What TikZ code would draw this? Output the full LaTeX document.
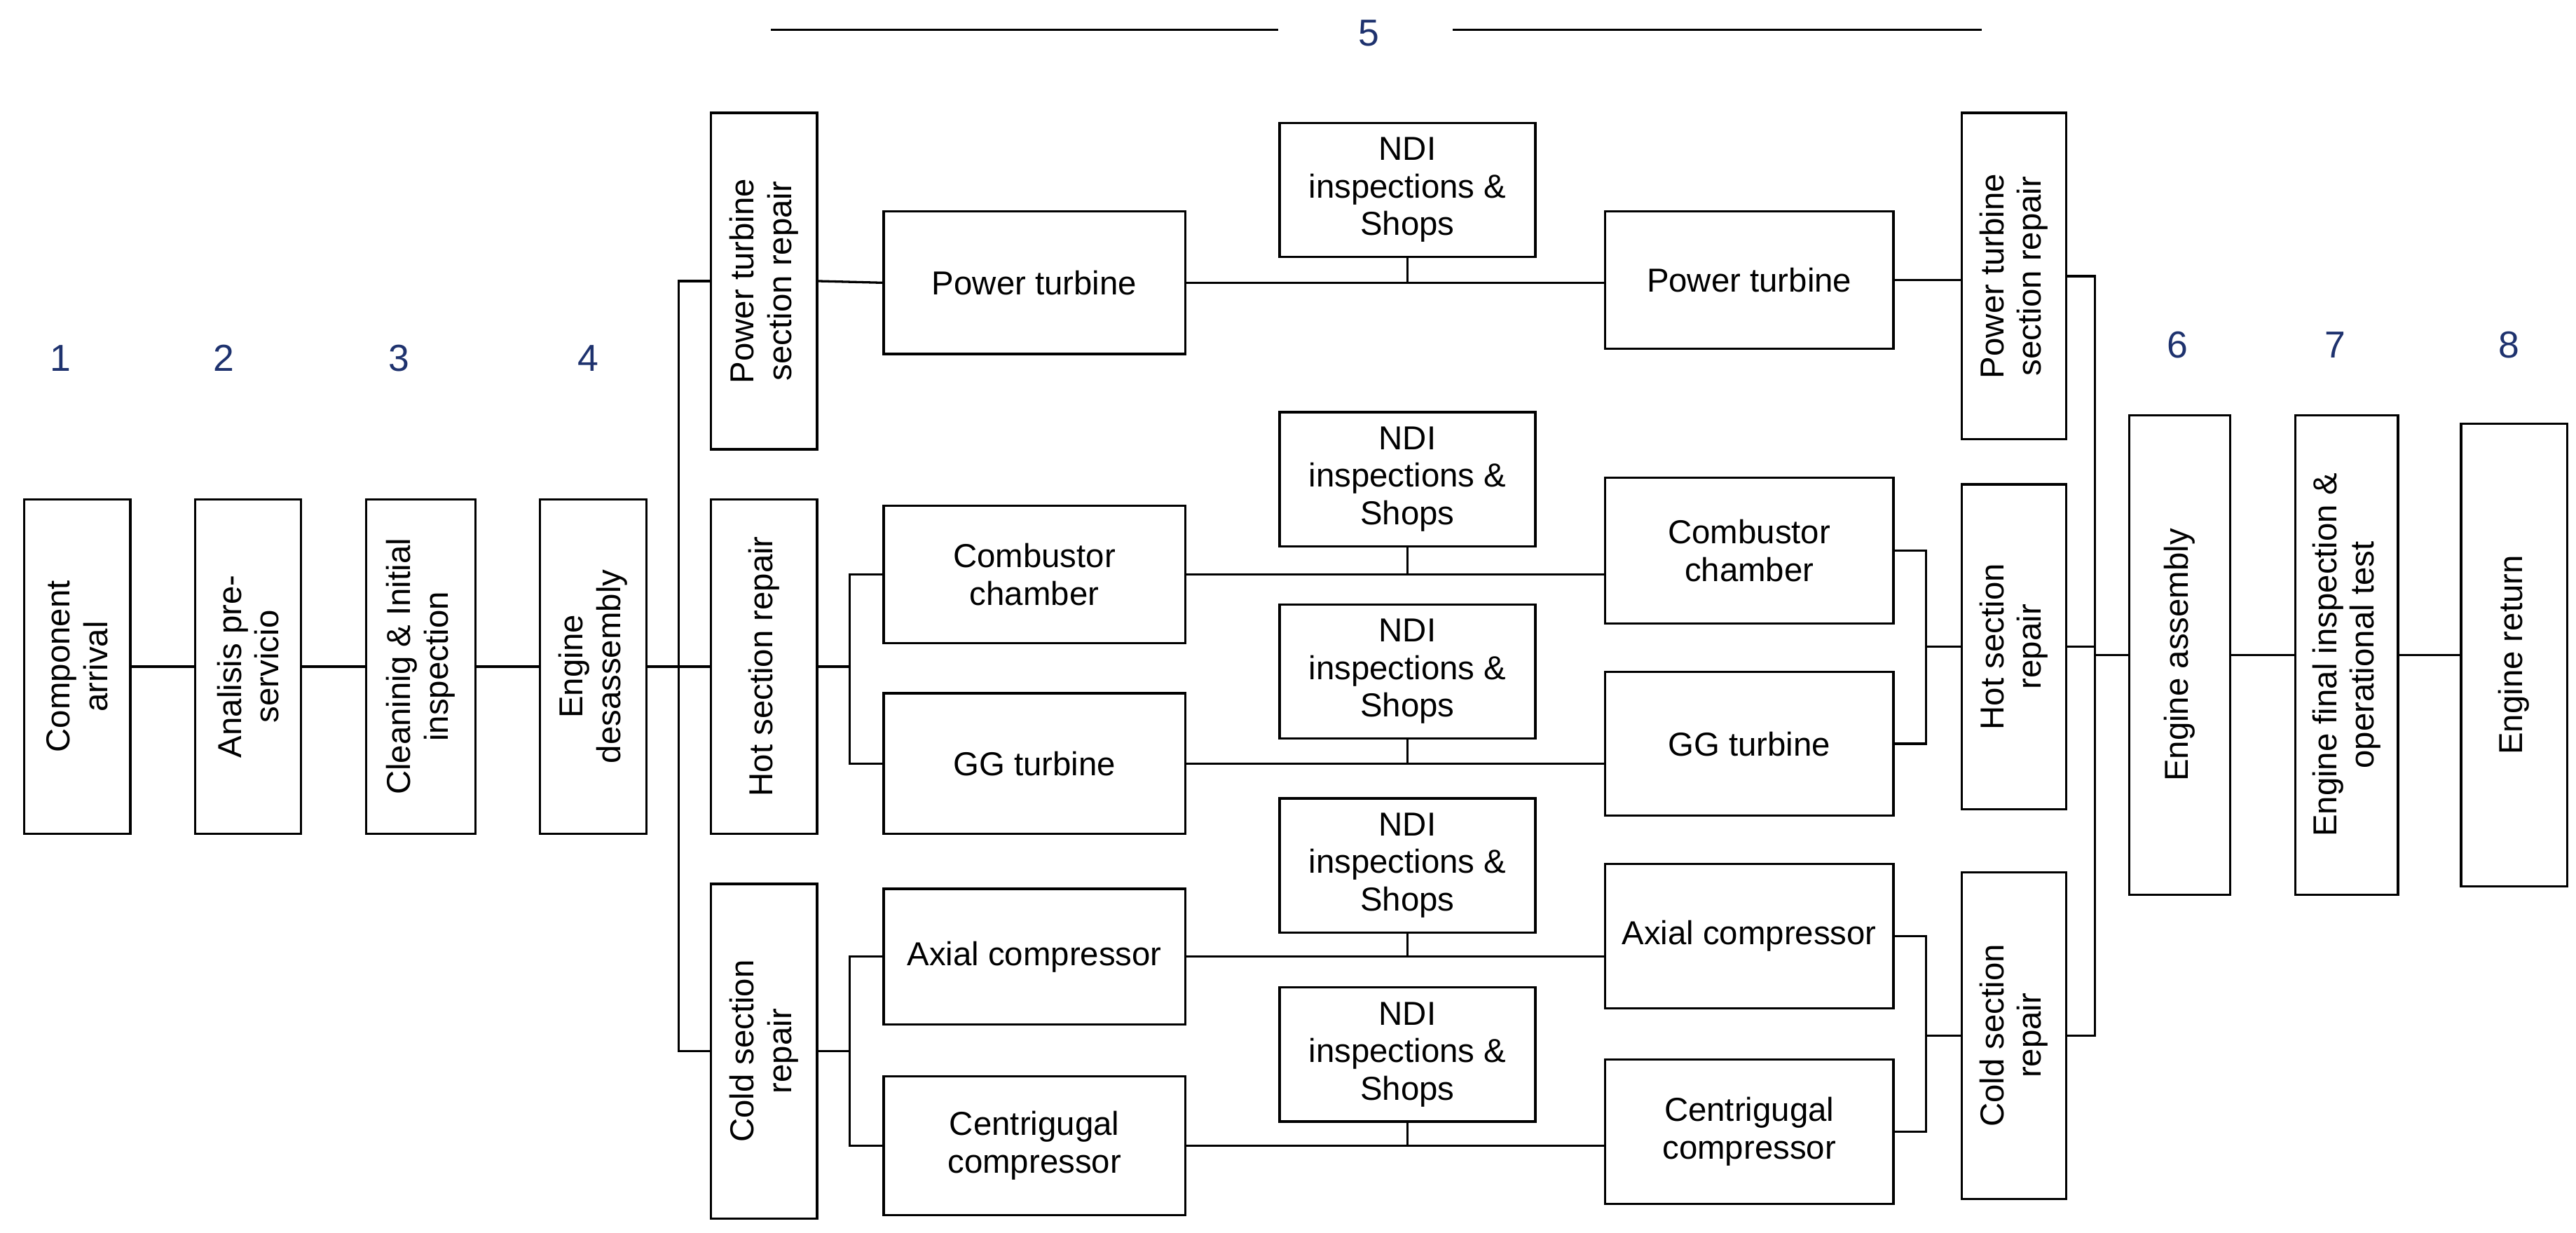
\documentclass[tikz,border=0pt]{standalone}
\usepackage{fontspec}
\setmainfont{Liberation Sans}
\usetikzlibrary{positioning,calc}
\definecolor{numblue}{RGB}{30,50,110}
\tikzset{
  box/.style={draw, thick, fill=white, inner sep=2pt, align=center,
              font=\fontsize{11.5}{13}\selectfont},
  vbox/.style={box, rotate=90},
  num/.style={font=\fontsize{13}{15}\selectfont, text=numblue},
  line/.style={thick},
}
% helper: boxes from display pixel centre and size
\newcommand{\hb}[6]{\node[box, minimum width=#3*0.02cm-0.8pt, minimum height=#4*0.02cm-0.8pt] (#5) at (#1*0.02,-#2*0.02) {#6};}
\newcommand{\vb}[6]{\node[vbox, minimum width=#4*0.02cm-0.8pt, minimum height=#3*0.02cm-0.8pt] (#5) at (#1*0.02,-#2*0.02) {#6};}
\begin{document}
\begin{tikzpicture}
\useasboundingbox (0,0) rectangle (31.36,-15.0);
% stages
\vb{47}{405.5}{66}{205}{s1}{Component\\arrival}
\vb{151}{405.5}{66}{205}{s2}{Analisis pre-\\servicio}
\vb{256}{405.5}{68}{205}{s3}{Cleaninig \& Initial\\inspection}
\vb{361}{405.5}{66}{205}{s4}{Engine\\desassembly}
\vb{465}{171}{66}{206}{ptl}{Power turbine\\section repair}
\vb{465}{405.5}{66}{205}{hsl}{Hot section repair}
\vb{465}{639.5}{66}{205}{csl}{Cold section\\repair}
\hb{629.5}{172}{185}{88}{pt1}{Power turbine}
\hb{629.5}{349.5}{185}{85}{cc1}{Combustor\\chamber}
\hb{629.5}{464.5}{185}{87}{gg1}{GG turbine}
\hb{629.5}{582}{185}{84}{ac1}{Axial compressor}
\hb{629.5}{697}{185}{86}{cf1}{Centrigugal\\compressor}
\hb{856.5}{115.5}{157}{83}{n1}{NDI\\inspections \&\\Shops}
\hb{856.5}{291.5}{157}{83}{n2}{NDI\\inspections \&\\Shops}
\hb{856.5}{408.5}{157}{83}{n3}{NDI\\inspections \&\\Shops}
\hb{856.5}{526.5}{157}{83}{n4}{NDI\\inspections \&\\Shops}
\hb{856.5}{641.5}{157}{83}{n5}{NDI\\inspections \&\\Shops}
\hb{1064.5}{170.5}{177}{85}{pt2}{Power turbine}
\hb{1064.5}{335}{177}{90}{cc2}{Combustor\\chamber}
\hb{1064.5}{452.5}{177}{89}{gg2}{GG turbine}
\hb{1064.5}{569.5}{177}{89}{ac2}{Axial compressor}
\hb{1064.5}{688.5}{177}{89}{cf2}{Centrigugal\\compressor}
\vb{1225.5}{168}{65}{200}{ptr}{Power turbine\\section repair}
\vb{1225.5}{393.5}{65}{199}{hsr}{Hot section\\repair}
\vb{1225.5}{630}{65}{200}{csr}{Cold section\\repair}
\vb{1326.5}{398.5}{63}{293}{s6}{Engine assembly}
\vb{1428}{398.5}{64}{293}{s7}{Engine final inspection \&\\operational test}
\vb{1530}{398.5}{66}{283}{s8}{Engine return}
% numbers
\foreach \t/\x/\y in {1/37/218,2/136/218,3/243/218,4/358/218,6/1325/210,7/1421/210,8/1527/210,5/833/20}
  \node[num] (lab\t) at (\x*0.02,-\y*0.02) {\t};
\coordinate (l5a) at (469*0.02,-18*0.02);
\coordinate (l5b) at (778*0.02,-18*0.02);
\coordinate (l5c) at (884*0.02,-18*0.02);
\coordinate (l5d) at (1206*0.02,-18*0.02);
\draw[line] (l5a) -- (l5b) (l5c) -- (l5d);
% main chain (rotated boxes: north = left side, south = right side)
\draw[line] (s1) -- (s2); \draw[line] (s2) -- (s3); \draw[line] (s3) -- (s4); \draw[line] (s4) -- (hsl);
\coordinate (b1) at (413*0.02,-405.5*0.02);
\draw[line] (ptl.north) -| (b1) |- (csl.north);
% left branches
\draw[line] (ptl.south) -- (pt1.west);
\draw[line] (hsl.south) -- ++(0.38,0) coordinate (b2);
\draw[line] (cc1.west) -| (b2) |- (gg1.west);
\draw[line] (csl.south) -- ++(0.38,0) coordinate (b3);
\draw[line] (ac1.west) -| (b3) |- (cf1.west);
% across
\draw[line] (pt1.east) -- (pt1.east -| pt2.west);
\draw[line] (cc1.east) -- (cc1.east -| cc2.west);
\draw[line] (gg1.east) -- (gg1.east -| gg2.west);
\draw[line] (ac1.east) -- (ac1.east -| ac2.west);
\draw[line] (cf1.east) -- (cf1.east -| cf2.west);
\draw[line] (n1.south) -- (n1.south |- pt1.east);
\draw[line] (n2.south) -- (n2.south |- cc1.east);
\draw[line] (n3.south) -- (n3.south |- gg1.east);
\draw[line] (n4.south) -- (n4.south |- ac1.east);
\draw[line] (n5.south) -- (n5.south |- cf1.east);
% right branches
\draw[line] (pt2.east) -- (pt2.east -| ptr.north);
\coordinate (b4) at (1172*0.02,-393.5*0.02);
\draw[line] (cc2.east) -| (b4) |- (gg2.east);
\draw[line] (b4) -- (hsr.north);
\coordinate (b5) at (1172*0.02,-630*0.02);
\draw[line] (ac2.east) -| (b5) |- (cf2.east);
\draw[line] (b5) -- (csr.north);
\coordinate (b6) at (1275*0.02,-398.5*0.02);
\draw[line] (ptr.south) -| (b6) |- (csr.south);
\draw[line] (hsr.south) -- (hsr.south -| b6);
\draw[line] (b6) -- (s6);
\draw[line] (s6) -- (s7); \draw[line] (s7) -- (s8);
\end{tikzpicture}
\end{document}
